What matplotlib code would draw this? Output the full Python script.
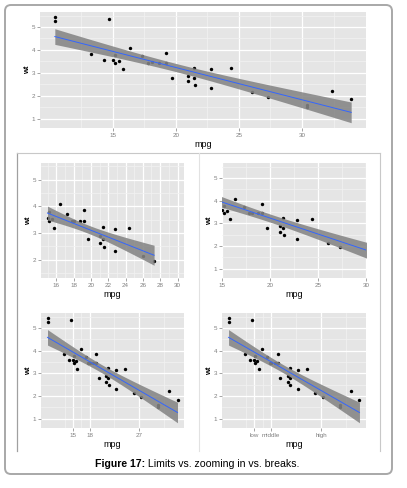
import math
import matplotlib
matplotlib.use('Agg')
import matplotlib.pyplot as plt
import matplotlib.patches as patches
import numpy as np

plt.rcParams['font.family'] = ['Liberation Sans', 'DejaVu Sans']

# mtcars: mpg vs wt
mpg = [21.0, 21.0, 22.8, 21.4, 18.7, 18.1, 14.3, 24.4, 22.8, 19.2, 17.8,
       16.4, 17.3, 15.2, 10.4, 10.4, 14.7, 32.4, 30.4, 33.9, 21.5, 15.5,
       15.2, 13.3, 19.2, 27.3, 26.0, 30.4, 15.8, 19.7, 15.0, 21.4]
wt = [2.620, 2.875, 2.320, 3.215, 3.440, 3.460, 3.570, 3.190, 3.150, 3.440,
      3.440, 4.070, 3.730, 3.780, 5.250, 5.424, 5.345, 2.200, 1.615, 1.835,
      2.465, 3.520, 3.435, 3.840, 3.845, 1.935, 2.140, 1.513, 3.170, 2.770,
      3.570, 2.780]

limits = [15, 30]
breaks_main = [15, 20, 25, 30]
breaks_limits = [16, 18, 20, 22, 24, 26, 28, 30]
breaks_custom = [15, 18, 27]
labels_custom = ['low', 'middle', 'high']
y_breaks = [1, 2, 3, 4, 5]

W, H = 407, 488
BG = '#E5E5E5'
GREY = '#7F7F7F'


def t975(df):
    # 97.5% quantile of Student t, by integrating the density
    xs = np.linspace(0, 8, 40001)
    c = math.exp(math.lgamma((df + 1) / 2) - math.lgamma(df / 2)) / math.sqrt(df * math.pi)
    pdf = c * (1 + xs ** 2 / df) ** (-(df + 1) / 2)
    cdf = 0.5 + np.concatenate([[0], np.cumsum((pdf[1:] + pdf[:-1]) / 2 * np.diff(xs))])
    return xs[np.searchsorted(cdf, 0.975)]


def lm_smooth(x, y, n=80):
    x = np.asarray(x, float)
    y = np.asarray(y, float)
    b, a = np.polyfit(x, y, 1)
    xs = np.linspace(x.min(), x.max(), n)
    fit = a + b * xs
    s = math.sqrt(np.sum((y - (a + b * x)) ** 2) / (len(x) - 2))
    sxx = np.sum((x - x.mean()) ** 2)
    se = s * np.sqrt(1 / len(x) + (xs - x.mean()) ** 2 / sxx)
    t = t975(len(x) - 2)
    return xs, fit, fit - t * se, fit + t * se


def expand(lo, hi, f=0.05):
    d = (hi - lo) * f
    return lo - d, hi + d


def minor_of(b, lim):
    b = list(b)
    bd = b[1] - b[0]
    ext = [b[0] - bd] + b + [b[-1] + (b[-1] - b[-2])]
    mids = [(u + v) / 2 for u, v in zip(ext[:-1], ext[1:])]
    return [m for m in mids if lim[0] <= m <= lim[1]]


def px_rect(x0, y0, x1, y1):
    return [x0 / W, 1 - y1 / H, (x1 - x0) / W, (y1 - y0) / H]


fig = plt.figure(figsize=(W / 100, H / 100), dpi=100)

# frame / caption layer in pixel coordinates
bg = fig.add_axes([0, 0, 1, 1])
bg.set_xlim(0, W)
bg.set_ylim(H, 0)
bg.axis('off')
bg.add_patch(patches.FancyBboxPatch((5, 5), 387, 469, boxstyle='round,pad=0,rounding_size=6',
                                    fill=False, ec='#A8A8A8', lw=1.4))
bg.plot([16.7, 16.7], [153, 451], color='#A0A0A0', lw=0.9)
bg.plot([16.7, 380], [153, 153], color='#C8C8C8', lw=0.8)
bg.plot([380, 380], [153, 451], color='#C8C8C8', lw=0.8)
bg.plot([199, 199], [153, 451], color='#E2E2E2', lw=0.8)
cap = bg.text(95, 464, 'Figure 17:', fontsize=7.6, fontweight='bold', va='center', ha='left')
bg.annotate(' Limits vs. zooming in vs. breaks.', xy=(1, 0), xycoords=cap,
            fontsize=7.6, va='bottom', ha='left')


def panel(rect, x, y, sm, xlim, xticks, xlabels=None):
    ax = fig.add_axes(px_rect(*rect))
    xs, fit, lo, hi = sm
    ylim = expand(min(min(wt), lo.min()), max(max(wt), hi.max()))
    ax.set_facecolor(BG)
    ax.scatter(x, y, s=6, c='black', lw=0, zorder=2)
    ax.fill_between(xs, lo, hi, color='#858585', alpha=0.88, lw=0, zorder=3)
    ax.plot(xs, fit, color='#3366FF', lw=0.7, zorder=4)
    ax.set_xlim(*xlim)
    ax.set_ylim(*ylim)
    ax.set_xticks(xticks)
    if xlabels is not None:
        ax.set_xticklabels(xlabels)
    yt = [v for v in y_breaks if ylim[0] <= v <= ylim[1]]
    ax.set_yticks(yt)
    ax.set_xticks(minor_of(xticks, xlim), minor=True)
    ax.set_yticks(minor_of(yt, ylim), minor=True)
    ax.grid(which='major', color='white', lw=0.9)
    ax.grid(which='minor', color='#F2F2F2', lw=0.5)
    ax.set_axisbelow(True)
    for s in ax.spines.values():
        s.set_visible(False)
    ax.tick_params(which='major', length=2.2, width=0.5, color=GREY, labelsize=4.5,
                   labelcolor=GREY, pad=1.2)
    ax.tick_params(which='minor', length=0)
    ax.set_xlabel('mpg', fontsize=6.5, labelpad=1.5)
    ax.set_ylabel('wt', fontsize=5.5, fontweight='bold', labelpad=0.5)
    return ax


sm_all = lm_smooth(mpg, wt)
xlim_all = expand(min(mpg), max(mpg))

# full data
panel((40, 12, 366, 128), mpg, wt, sm_all, xlim_all, breaks_main)

# scale limits: points outside dropped, fit on what remains
keep = [(m, w) for m, w in zip(mpg, wt) if limits[0] <= m <= limits[1]]
mk = [k[0] for k in keep]
wk = [k[1] for k in keep]
panel((41, 163, 184, 278), mk, wk, lm_smooth(mk, wk), expand(*limits), breaks_limits)

# coord zoom: fit on all data, view cut
panel((222, 163, 366, 278), mpg, wt, sm_all, limits, breaks_main)

# custom breaks
panel((41, 313, 184, 428), mpg, wt, sm_all, xlim_all, breaks_custom)
panel((222, 313, 366, 428), mpg, wt, sm_all, xlim_all, breaks_custom, labels_custom)

fig.savefig('out.png', dpi=100)
